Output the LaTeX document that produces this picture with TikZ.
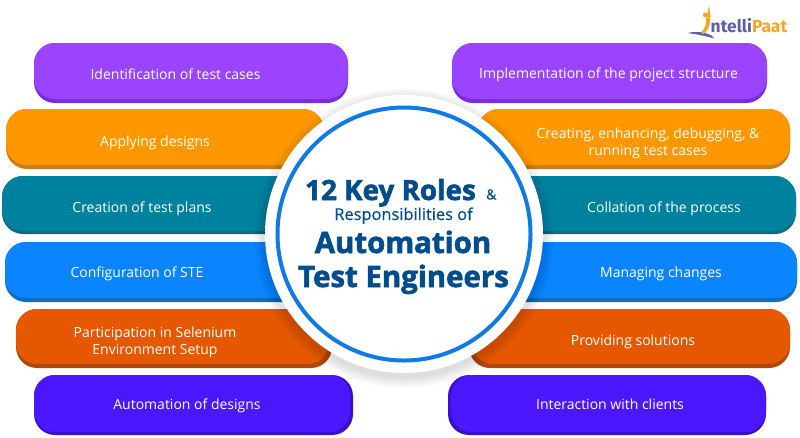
\documentclass[tikz,border=0pt]{standalone}
\usepackage{fontspec}
\setmainfont{Open Sans}
\newfontfamily\logofont{Fira Sans}
\newfontfamily\titlefont{Open Sans}[BoldFeatures={FakeBold=2}]
\newfontfamily\semifont{Open Sans}[UprightFeatures={FakeBold=0.35}]
\definecolor{cpurple}{HTML}{9A44FF}\definecolor{dpurple}{HTML}{7A2BE0}
\definecolor{corange}{HTML}{FF9800}\definecolor{dorange}{HTML}{C9801A}
\definecolor{cteal}{HTML}{00829F}\definecolor{dteal}{HTML}{0F6B7D}
\definecolor{cblue}{HTML}{0A85FF}\definecolor{dblue}{HTML}{0F6DBE}
\definecolor{cred}{HTML}{E55800}\definecolor{dred}{HTML}{AF4710}
\definecolor{cindigo}{HTML}{4B17FF}\definecolor{dindigo}{HTML}{3A10CC}
\definecolor{titleblue}{HTML}{004C8C}\definecolor{ringblue}{HTML}{0F7AE5}
\definecolor{logoblue}{HTML}{5A5FA8}\definecolor{logoorange}{HTML}{F5A623}
\tikzset{
  rolelabel/.style={text=white,font=\fontsize{14}{17}\selectfont,align=center,inner sep=0pt},
  titlebig/.style={text=titleblue,font=\titlefont\fontsize{29.4}{32}\selectfont\bfseries,inner sep=0pt},
  titlesmall/.style={text=titleblue,font=\semifont\fontsize{16.4}{18}\selectfont,inner sep=0pt}
}
% x1 y1 x2 y2 colour ledge-dx-left ledge-dx-right ledge-height
\newcommand{\rolebar}[8]{%
  \fill[d#5,rounded corners=21pt] (#1,#2) rectangle (#3,#4);
  \fill[c#5,rounded corners=21pt] (#1+#6,#2) rectangle (#3-#7,#4-#8);
}
\begin{document}
\begin{tikzpicture}[x=1pt,y=-1pt]
\useasboundingbox (0,0) rectangle (800,437);
\fill[white] (0,0) rectangle (800,437);
% left bars
\rolebar{34}{43}{348}{103}{purple}{0}{0}{4}
\rolebar{6}{109}{324}{169}{orange}{0}{0}{4}
\rolebar{2}{176}{324}{234}{teal}{0}{0}{3}
\rolebar{5}{242}{324}{302}{blue}{0}{0}{4}
\rolebar{16}{309}{332}{368}{red}{0}{3}{4}
\rolebar{34}{375}{353}{435}{indigo}{0}{3}{3}
% right bars
\rolebar{452}{43}{767}{103}{purple}{0}{0}{4}
\rolebar{478}{109}{790}{169}{orange}{0}{0}{4}
\rolebar{478}{176}{796}{234}{teal}{0}{0}{3}
\rolebar{478}{242}{797}{302}{blue}{0}{0}{4}
\rolebar{469}{309}{790}{368}{red}{3}{0}{4}
\rolebar{448}{375}{766}{435}{indigo}{3}{0}{3}
% labels left
\node[rolelabel] (l1) at (175.5,73.8) {Identification of test cases};
\node[rolelabel] (l2) at (155,142.5) {Applying designs};
\node[rolelabel] (l3) at (142,208.5) {Creation of test plans};
\node[rolelabel] (l4) at (137,273.5) {Configuration of STE};
\node[rolelabel] (l5) at (155,342) {Participation in Selenium\\Environment Setup};
\node[rolelabel] (l6) at (187,405.5) {Automation of designs};
% labels right
\node[rolelabel] (r1) at (608.5,74.5) {Implementation of the project structure};
\node[rolelabel] (r2) at (648,143) {Creating, enhancing, debugging, \&\\running test cases};
\node[rolelabel] (r3) at (664,208.5) {Collation of the process};
\node[rolelabel] (r4) at (661,273.5) {Managing changes};
\node[rolelabel] (r5) at (633,341.5) {Providing solutions};
\node[rolelabel] (r6) at (610,404.5) {Interaction with clients};
% circle shadow
\foreach \r in {150,149,...,140}
  \fill[black,opacity=.012] (404,238) circle (\r);
\fill[white] (404,234) circle (139);
\draw[ringblue,line width=4pt] (404,234) circle (126.5);
% title
\node[titlebig,font=\titlefont\fontsize{27.8}{30}\selectfont\bfseries,anchor=base west] (t1) at (305,200) {12 Key Roles};
\node[text=titleblue,font=\semifont\fontsize{14}{15}\selectfont,inner sep=0pt,anchor=base west] (t1b) at (486,199.5) {\&};
\node[titlesmall,anchor=base] (t2) at (403.5,220) {Responsibilities of};
\node[titlebig,anchor=base] (t3) at (403,253) {Automation};
\node[titlebig,anchor=base] (t4) at (403.5,287) {Test Engineers};
% logo
\fill[logoblue] (688,33) .. controls (696,31) and (703,32) .. (708,34) .. controls (711,35) and (713,36) .. (714,38.5) .. controls (709,37) and (705,36) .. (700,35) .. controls (696,34) and (692,34) .. (688,33) -- cycle;
\fill[logoorange] (701,33) .. controls (705,28) and (707,23) .. (706,18) -- (710,17) .. controls (711,23) and (709,29) .. (704,34) -- cycle;
\fill[logoorange] (707,17) -- (709,5) -- (710.5,17) -- cycle;
\fill[logoorange] (705.5,15) circle (2.6);
\node[inner sep=0pt,anchor=base west,font=\logofont\fontsize{17.4}{17}\selectfont\bfseries] (logo) at (710.5,32.5) {\textcolor{logoblue}{ntelli}\textcolor{logoorange}{Paat}};
\end{tikzpicture}
\end{document}
